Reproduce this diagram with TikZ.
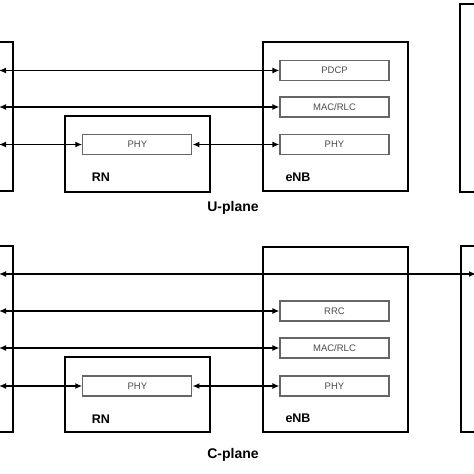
\documentclass[tikz,border=0pt]{standalone}
\usepackage{fontspec}
\setmainfont{Liberation Sans}
\usetikzlibrary{arrows.meta}
\begin{document}
\begin{tikzpicture}[x=1pt,y=-1pt]
        % Styles
        \tikzstyle{entity}=[draw,line width=1.6pt,inner sep=0pt]
        \tikzstyle{layer}=[draw=black!60,fill=white,line width=1.2pt,minimum width=109pt,minimum height=20pt,inner sep=0pt,text=black!70,font=\fontsize{9.5}{10}\selectfont]
        \tikzstyle{link}=[line width=1.5pt,{Latex[length=7pt,width=6pt]}-{Latex[length=7pt,width=6pt]}]
        \tikzstyle{entity name}=[font=\fontsize{12.5}{13}\selectfont\bfseries]
        \tikzstyle{plane name}=[font=\fontsize{14}{15}\selectfont\bfseries]
        \clip (0,0) rectangle (474,474);
        \fill[white] (0,0) rectangle (474,474);
        \coordinate (ueTip) at (-1,0);
        %U-plane
        \node[entity,minimum width=72.7pt,minimum height=149pt] (ueU) at (-23.65,116.5) {};
        \node[entity,minimum width=145.3pt,minimum height=149pt] (enbU) at (335.35,116.5) {};
        \node[entity,minimum width=145pt,minimum height=76pt] (rnU) at (137.5,154) {};
        \node[entity,minimum width=80pt,minimum height=188pt] (gwU) at (500,98) {};
        \node[layer] (pdcpU) at (334.5,70.5) {PDCP};
        \node[layer] (macU) at (334.5,107) {MAC/RLC};
        \node[layer] (phyU) at (334.5,144.5) {PHY};
        \node[layer] (rnphyU) at (137.35,144.5) {PHY};
        \node[entity name] (rnnameU) at (101,177) {RN};
        \node[entity name] (enbnameU) at (298,177) {eNB};
        \node[plane name] (uplane) at (233,208) {U-plane};
        \foreach \n in {pdcpU,macU,rnphyU}
            \draw[link] (\n.west -| ueTip) -- (\n.west);
        \draw[link] (rnphyU.east) -- (phyU.west);
        %C-plane
        \node[entity,minimum width=72.7pt,minimum height=186pt] (ueC) at (-23.65,339) {};
        \node[entity,minimum width=145.3pt,minimum height=185pt] (enbC) at (335.35,339.5) {};
        \node[entity,minimum width=145pt,minimum height=75pt] (rnC) at (137.5,394.5) {};
        \node[entity,minimum width=80pt,minimum height=186pt] (gwC) at (501,339) {};
        \coordinate (nasC) at (476,274);
        \node[layer] (rrcC) at (334.5,311) {RRC};
        \node[layer] (macC) at (334.5,348) {MAC/RLC};
        \node[layer] (phyC) at (334.5,386) {PHY};
        \node[layer] (rnphyC) at (137.35,386) {PHY};
        \node[entity name] (rnnameC) at (101,419) {RN};
        \node[entity name] (enbnameC) at (298,418) {eNB};
        \node[plane name] (cplane) at (233,455) {C-plane};
        \draw[link] (nasC -| ueTip) -- (nasC);
        \foreach \n in {rrcC,macC,rnphyC}
            \draw[link] (\n.west -| ueTip) -- (\n.west);
        \draw[link] (rnphyC.east) -- (phyC.west);
\end{tikzpicture}
\end{document}
